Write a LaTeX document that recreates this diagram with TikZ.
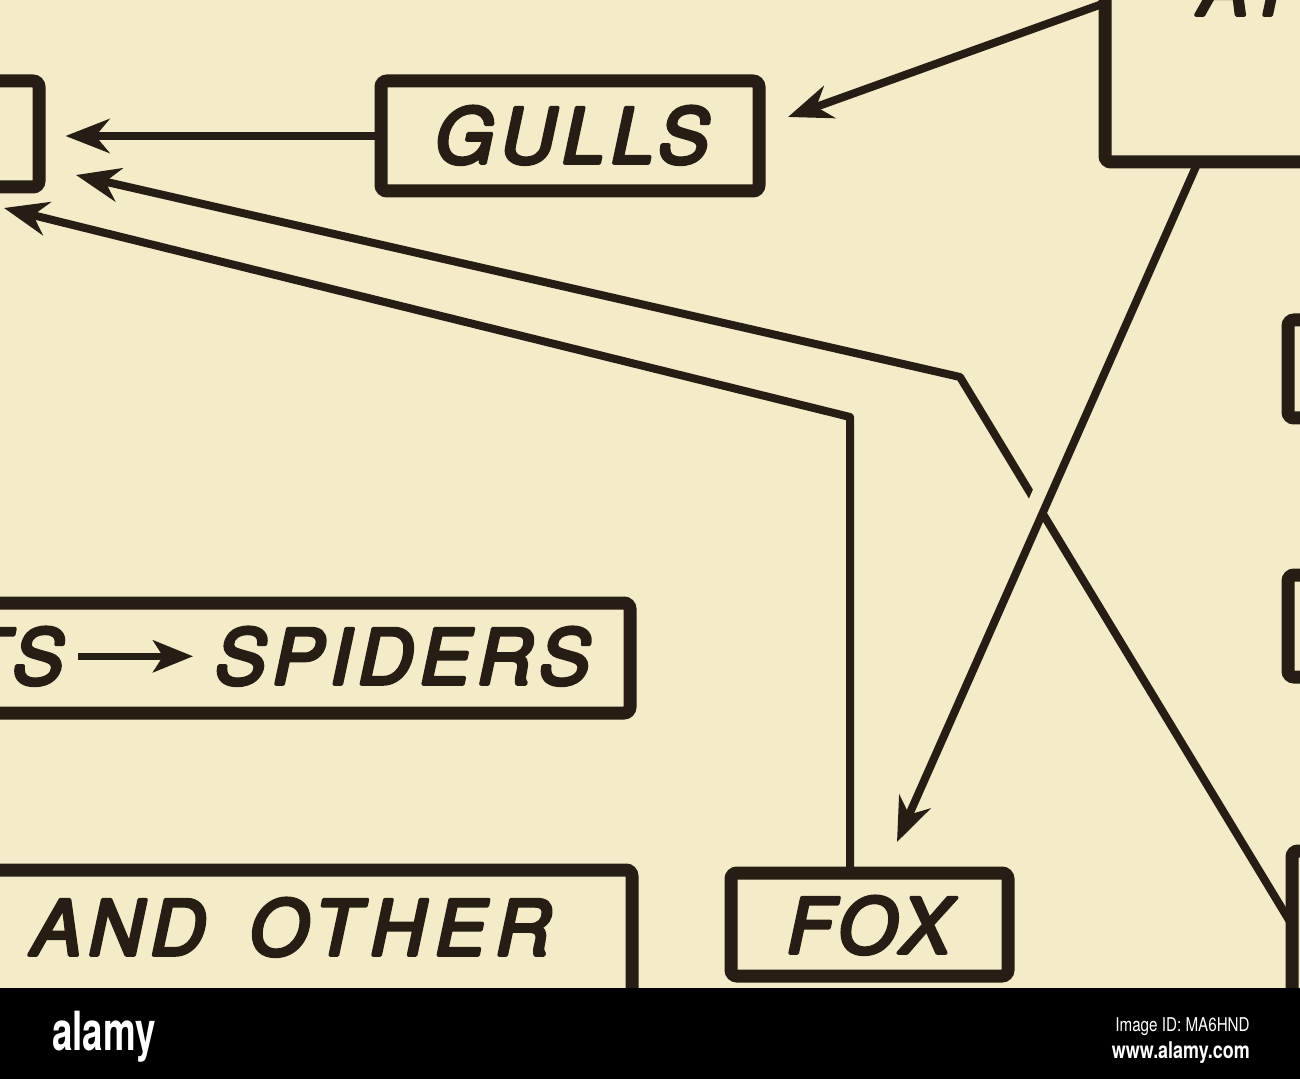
\documentclass[tikz,border=0pt]{standalone}
\usepackage{fontspec}
\setmainfont{TeX Gyre Heros}
\newfontfamily\lettering[LetterSpace=9.0]{TeX Gyre Heros}
\usetikzlibrary{arrows.meta,fit,calc}
\definecolor{paper}{RGB}{244,236,200}
\definecolor{ink}{RGB}{38,30,20}
\newcommand{\heavytext}[1]{\special{pdf:literal direct 2 Tr 1.8 w 1 j}#1\special{pdf:literal direct 0 Tr}}
\begin{document}
\begin{tikzpicture}[x=0.5pt,y=-0.5pt,
  box/.style={draw=ink, line width=6.5pt, rounded corners=3pt, inner sep=0pt},
  lbl/.style={inner sep=0pt, text=ink, font=\lettering\itshape\fontsize{38}{40}\selectfont},
  conn/.style={draw=ink, line width=4pt, line join=round},
  arr/.style={conn, -{Stealth[length=22pt,width=17pt,inset=7pt]}},
  smallarr/.style={draw=ink, line width=3.2pt, -{Stealth[length=20pt,width=16pt,inset=5pt]}},
  banner/.style={text=white, inner sep=0pt}]
\useasboundingbox (0,0) rectangle (1300,1079);
\clip (0,0) rectangle (1300,1079);
\fill[paper] (0,0) rectangle (1300,1079);

% boxes
\node[box, fit={(-100,81) (39,187)}] (lefttop) {};
\node[box, fit={(381,81) (759,191)}] (gulls) {};
\node[box, fit={(1105,-200) (1500,162)}] (bigtr) {};
\node[box, fit={(1288,320) (1500,418)}] (rbox1) {};
\node[box, fit={(1288,575) (1500,677)}] (rbox2) {};
\node[box, fit={(-300,603) (630,713)}] (spiders) {};
\node[box, fit={(-300,870) (632,1200)}] (andother) {};
\node[box, fit={(731,873) (1008,976)}] (fox) {};
\node[box, fit={(1292,851) (1500,1200)}] (brbox) {};

% texts
\node[lbl, anchor=base] (gullstxt) at (572,163) {\heavytext{GULLS}};
\node[lbl, anchor=base] (foxtxt) at (869,953) {\heavytext{FOX}};
\node[lbl, anchor=base west] (attxt) at (1198,15) {\heavytext{AT}};
\node[lbl, anchor=base east] (ts) at (64,684) {\heavytext{TS}};
\node[lbl, anchor=base west] (sp) at (215,684) {\heavytext{SPIDERS}};
\node[lbl, anchor=base west] (ao) at (31,955) {\heavytext{AND\hspace{22pt}{\addfontfeature{LetterSpace=13}OTHER}}};
\draw[smallarr, shorten <=7pt, shorten >=11pt] (ts.east) -- (sp.west);

% connector points
\coordinate (g1) at (1105,3);
\coordinate (gtip) at (788,117);
\coordinate (s2) at (1292,925);
\coordinate (b2) at (960,377);
\coordinate (t2) at (76,175);
\coordinate (s3) at (850,870);
\coordinate (b3) at (850,417);
\coordinate (t3) at (4,208);
\coordinate (cx1) at (1198,162);
\coordinate (cxtip) at (897,842);
\coordinate (gapA) at (1044,487);
\coordinate (gapB) at (1028,523);

% connectors
\draw[arr, shorten >=10pt] (gulls.west) -- (lefttop.east |- gulls.west);
\draw[arr] (g1) -- (gtip);
\draw[arr] (s2) -- (b2) -- (t2);
\draw[arr] (s3) -- (b3) -- (t3);
\draw[paper, line width=9pt] (gapA) -- (gapB);
\draw[arr] (cx1) -- (cxtip);

% banner
\fill[black] (0,988) rectangle (1300,1079);
\node[banner, anchor=base west, xscale=0.68, font=\bfseries\fontsize{27}{30}\selectfont] (logo) at (52,1050) {alamy};
\node[banner, anchor=base east, xscale=0.8, font=\fontsize{9.5}{11}\selectfont] (imgid) at (1250,1031) {Image ID: MA6HND};
\node[banner, anchor=base east, xscale=0.78, font=\bfseries\fontsize{11.5}{13}\selectfont] (www) at (1250,1058) {www.alamy.com};
\end{tikzpicture}
\end{document}
